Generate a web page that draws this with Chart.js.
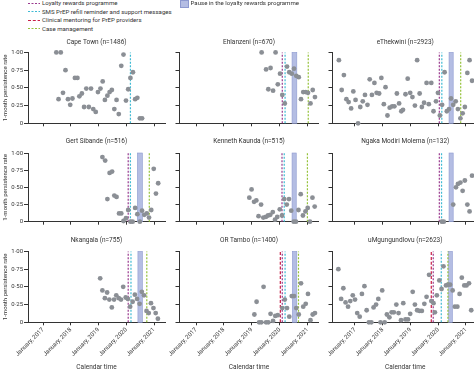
<!DOCTYPE html>
<html><head><meta charset="utf-8">
<script src="https://cdn.jsdelivr.net/npm/chart.js@4"></script>
<style>
html,body{margin:0;padding:0;width:474px;height:370px;overflow:hidden;background:#fff;}
body{position:relative;}
canvas{position:absolute;}
.lg{position:absolute;font-family:Roboto,'Liberation Sans',sans-serif;font-size:6.1px;color:#333;white-space:nowrap;line-height:8px;height:8px;}
svg{position:absolute;}
</style></head><body>
<script>
// ---------------- data ----------------
const districts = ['Cape Town','Ehlanzeni','eThekwini','Gert Sibande','Kenneth Kaunda','Ngaka Modiri Molema','Nkangala','OR Tambo','uMgungundlovu'];
const sampleSizes = [1486,670,2923,516,515,132,755,1400,2623];
const yTickValues = [0,0.25,0.5,0.75,1];
const yTickLabels = ['0','0·25','0·50','0·75','1·00'];
const xTickYears = [2017,2018,2019,2020,2021];
const xTickLabels = ['January, 2017','January, 2018','January, 2019','January, 2020','January, 2021'];
const yAxisTitle = '1-month persistence rate';
const xAxisTitle = 'Calendar time';

const capeTownTime = [2017.48,2017.56,2017.64,2017.72,2017.81,2017.90,2017.98,2018.06,2018.15,2018.24,2018.31,2018.40,2018.48,2018.56,2018.65,2018.73,2018.81,2018.90,2018.98,2019.07,2019.15,2019.23,2019.32,2019.40,2019.48,2019.57,2019.65,2019.73,2019.82,2019.90,2019.99,2020.07,2020.15,2020.24,2020.32,2020.40,2020.49,2020.57];
const capeTownRate = [1.00,0.34,1.00,0.43,0.75,0.34,0.26,0.35,0.64,0.64,0.38,0.42,0.23,0.49,0.23,0.49,0.20,0.16,0.44,0.49,0.59,0.33,0.39,0.44,0.47,0.20,0.33,0.13,0.81,0.97,0.32,0.48,0.64,0.72,0.34,0.36,0.07,0.07];

const ehlanzeniTime = [2019.35,2019.51,2019.59,2019.67,2019.76,2019.85,2019.93,2020.01,2020.09,2020.18,2020.26,2020.34,2020.43,2020.51,2020.59,2020.68,2020.76,2020.84,2020.93,2021.01,2021.10,2021.18,2021.26];
const ehlanzeniRate = [1.00,0.76,0.48,0.78,0.46,1.00,0.55,0.70,0.40,0.28,0.80,0.72,0.70,0.77,0.67,0.65,0.34,0.44,0.44,0.43,0.28,0.47,0.37];

const eThekwiniTime = [2016.42,2016.52,2016.60,2016.69,2016.77,2016.86,2016.94,2017.02,2017.11,2017.19,2017.28,2017.36,2017.45,2017.53,2017.61,2017.70,2017.78,2017.87,2017.95,2018.04,2018.10,2018.17,2018.25,2018.34,2018.42,2018.51,2018.59,2018.67,2018.73,2018.82,2018.90,2018.99,2019.07,2019.16,2019.24,2019.33,2019.41,2019.49,2019.58,2019.66,2019.75,2019.83,2019.92,2019.99,2020.06,2020.14,2020.23,2020.31,2020.39,2020.46,2020.54,2020.63,2020.71,2020.80,2020.88,2020.96,2021.05,2021.13,2021.22];
const eThekwiniRate = [0.89,0.47,0.68,0.34,0.30,0.21,0.45,0.33,0.00,0.23,0.31,0.40,0.26,0.62,0.40,0.57,0.43,0.42,0.64,0.27,0.51,0.11,0.22,0.24,0.24,0.42,0.28,0.17,0.19,0.41,0.63,0.43,0.37,0.25,0.89,0.42,0.23,0.29,0.57,0.27,0.57,0.17,0.31,0.43,0.11,0.26,0.72,0.17,0.20,0.35,0.26,0.31,0.20,0.07,0.14,0.23,0.71,0.89,0.60];

const gertSibandeTime = [2019.14,2019.24,2019.32,2019.40,2019.49,2019.57,2019.65,2019.74,2019.82,2019.90,2019.99,2020.07,2020.15,2020.23,2020.32,2020.40,2020.49,2020.57,2020.65,2020.74,2020.82,2020.90,2020.99,2021.07,2021.15];
const gertSibandeRate = [0.94,0.89,0.33,0.71,0.73,0.38,0.36,0.12,0.12,0.01,0.05,0.17,0.00,0.00,0.20,0.11,0.00,0.16,0.10,0.12,0.06,0.17,0.77,0.41,0.56];

const kennethKaundaTime = [2018.91,2018.99,2019.08,2019.16,2019.24,2019.33,2019.41,2019.50,2019.58,2019.66,2019.75,2019.83,2019.91,2020.00,2020.08,2020.16,2020.25,2020.33,2020.41,2020.50,2020.58,2020.67,2020.75,2020.83,2020.92,2021.00,2021.08,2021.17,2021.25];
const kennethKaundaRate = [0.35,0.47,0.29,0.31,0.08,0.25,0.06,0.07,0.09,0.10,0.14,0.03,0.07,0.18,0.09,0.33,0.25,0.33,0.16,0.00,0.00,0.17,0.40,0.09,0.15,0.20,0.00,0.35,0.22];

const ngakaModiriMolemaTime = [2020.13,2020.20,2020.54,2020.64,2020.71,2020.80,2020.88,2020.96,2021.05,2021.13,2021.22];
const ngakaModiriMolemaRate = [0.00,0.00,0.25,0.50,0.55,0.57,0.45,0.60,0.25,0.15,0.67];

const nkangalaTime = [2019.06,2019.14,2019.23,2019.31,2019.39,2019.48,2019.56,2019.64,2019.73,2019.81,2019.89,2019.98,2020.06,2020.14,2020.23,2020.31,2020.39,2020.48,2020.56,2020.64,2020.73,2020.81,2020.89,2020.98,2021.06,2021.14];
const nkangalaRate = [0.62,0.45,0.34,0.42,0.32,0.21,0.32,0.38,0.34,0.32,0.50,0.35,0.33,0.22,0.29,0.39,0.33,0.26,0.43,0.38,0.16,0.13,0.27,0.20,0.13,0.05];

const orTamboTime = [2019.09,2019.17,2019.26,2019.34,2019.42,2019.51,2019.59,2019.67,2019.76,2019.84,2019.93,2020.09,2020.18,2020.26,2020.34,2020.43,2020.51,2020.59,2020.68,2020.76,2020.84,2020.93,2021.01,2021.10,2021.18,2021.26];
const orTamboRate = [0.11,0.29,0.00,0.00,0.50,0.00,0.00,0.12,0.02,0.09,0.10,0.20,0.32,0.20,0.08,0.37,0.37,0.20,0.11,0.55,0.22,0.26,0.40,0.03,0.11,0.13];

const uMgungundlovuTime = [2016.40,2016.50,2016.58,2016.66,2016.75,2016.83,2016.92,2017.00,2017.08,2017.17,2017.25,2017.34,2017.42,2017.50,2017.59,2017.67,2017.76,2017.84,2017.92,2017.98,2018.07,2018.15,2018.24,2018.32,2018.40,2018.49,2018.57,2018.66,2018.74,2018.82,2018.91,2018.99,2019.08,2019.16,2019.24,2019.33,2019.41,2019.50,2019.58,2019.67,2019.75,2019.83,2019.88,2019.95,2020.04,2020.12,2020.19,2020.28,2020.35,2020.43,2020.52,2020.60,2020.69,2020.77,2020.85,2020.94,2021.02,2021.11,2021.19];
const uMgungundlovuRate = [0.75,0.33,0.48,0.28,0.22,0.30,0.38,0.32,0.13,0.08,0.40,0.51,0.17,0.00,0.00,0.21,0.25,0.33,0.00,0.45,0.00,0.11,0.07,0.14,0.14,0.25,0.13,0.03,0.27,0.04,0.04,0.12,0.43,0.25,0.17,0.16,0.16,0.26,0.36,0.67,0.30,0.27,0.14,0.38,0.59,0.47,0.79,0.52,0.53,0.53,0.45,0.22,0.22,0.40,0.63,0.52,0.52,0.55,0.17];

// intervention start dates (decimal year), per district, null = not shown
const loyaltyStart   = [null,2020.09,2020.04,2020.07,2020.08,2020.04,2020.07,2020.09,2019.82];
const smsStart       = [2020.15,2020.19,2020.13,2020.15,2020.16,2020.12,2020.17,2020.19,2020.11];
const mentoringStart = [null,null,null,null,null,null,null,2020.02,2019.75];
const caseMgmtStart  = [null,2021.02,2020.81,2020.83,2020.99,null,2020.74,2020.67,2020.35];
const pauseStart     = [null,2020.44,2020.39,2020.40,2020.44,2020.39,2020.42,2020.45,2020.37];
const pauseEnd       = [null,2020.61,2020.54,2020.58,2020.59,2020.54,2020.58,2020.61,2020.51];

const interventionNames = ['Loyalty rewards programme','SMS PrEP refill reminder and support messages','Clinical mentoring for PrEP providers','Case management'];
const pauseName = 'Pause in the loyalty rewards programme';

// ---------------- styling / layout ----------------
const seriesTimes = [capeTownTime,ehlanzeniTime,eThekwiniTime,gertSibandeTime,kennethKaundaTime,ngakaModiriMolemaTime,nkangalaTime,orTamboTime,uMgungundlovuTime];
const seriesRates = [capeTownRate,ehlanzeniRate,eThekwiniRate,gertSibandeRate,kennethKaundaRate,ngakaModiriMolemaRate,nkangalaRate,orTamboRate,uMgungundlovuRate];
const lineStyles = [
  {starts: loyaltyStart,   color:'#9a3a8e', dash:[2,1.5]},
  {starts: smsStart,       color:'#3fbad4', dash:[2,1.5]},
  {starts: mentoringStart, color:'#c81f45', dash:[3,1.8]},
  {starts: caseMgmtStart,  color:'#95c23a', dash:[2,1.5]}
];
const PAUSE_FILL = '#b4bde3', PAUSE_STROKE = '#8e9ad0';
const POINT_COLOR = '#8b8f95';
const AXIS_COLOR = '#333333';
const FONT = "Roboto,'Liberation Sans',sans-serif";

const COL_LEFT  = [28, 179.5, 332.5];
const COL_RIGHT = [165, 318.5, 478];
const COL_XMIN  = [2016.459, 2016.409, 2016.189];
const COL_XMAX  = [2021.396, 2021.387, 2021.434];
const ROW_TOP    = [52.7, 153.3, 251.7];
const ROW_BOTTOM = [123.3, 221.7, 322.3];
const ROW_TITLE_GAP = [9.6, 11.4, 11.0];

Chart.defaults.font.family = FONT;
Chart.defaults.color = AXIS_COLOR;

const pausePlugin = {
  id: 'pauseBand',
  beforeDatasetsDraw(chart, args, opts) {
    if (opts.start == null) return;
    const xs = chart.scales.x, ys = chart.scales.y, ctx = chart.ctx;
    const x0 = xs.getPixelForValue(opts.start), x1 = xs.getPixelForValue(opts.end);
    const y0 = ys.getPixelForValue(1), y1 = ys.getPixelForValue(0);
    ctx.save();
    ctx.fillStyle = PAUSE_FILL;
    ctx.fillRect(x0, y0, x1 - x0, y1 - y0);
    ctx.strokeStyle = PAUSE_STROKE;
    ctx.lineWidth = 0.6;
    ctx.strokeRect(x0, y0, x1 - x0, y1 - y0);
    ctx.restore();
  }
};

function makePanel(i) {
  const col = i % 3, row = Math.floor(i / 3);
  const pl = COL_LEFT[col], pr = COL_RIGHT[col], pt = ROW_TOP[row], pb = ROW_BOTTOM[row];
  const cl = Math.floor(pl - (col === 0 ? 28 : 24));
  const yW = pl - cl;
  const cw = Math.ceil(pr + 4) - cl;
  const padR = cl + cw - pr;
  const gap = ROW_TITLE_GAP[row];
  const ct = Math.floor(pt - gap - 4.2 - 1);
  const padT = (pt - gap - 4.2) - ct;
  const bottomEdge = row === 2 ? 371 : pb + 6;
  const ch = Math.ceil(bottomEdge) - ct;
  const xH = ct + ch - pb;

  const cv = document.createElement('canvas');
  cv.width = cw; cv.height = ch;
  cv.style.left = cl + 'px'; cv.style.top = ct + 'px';
  cv.style.width = cw + 'px'; cv.style.height = ch + 'px';
  document.body.appendChild(cv);

  const datasets = [{
    data: seriesTimes[i].map((t, k) => ({x: t, y: seriesRates[i][k]})),
    pointRadius: 2.4, pointBackgroundColor: POINT_COLOR, pointBorderWidth: 0,
    backgroundColor: POINT_COLOR, borderWidth: 0, showLine: false, clip: false
  }];
  lineStyles.forEach(ls => {
    const t = ls.starts[i];
    if (t == null) return;
    datasets.push({
      data: [{x: t, y: 0}, {x: t, y: 1}],
      showLine: true, borderColor: ls.color, borderWidth: 1.2, borderDash: ls.dash,
      pointRadius: 0, clip: false
    });
  });

  new Chart(cv, {
    type: 'scatter',
    data: {datasets},
    plugins: [pausePlugin],
    options: {
      responsive: false, animation: false, devicePixelRatio: 1,
      events: [],
      layout: {padding: {top: padT, left: 0, right: padR, bottom: 0}},
      plugins: {
        legend: {display: false}, tooltip: {enabled: false},
        pauseBand: {start: pauseStart[i], end: pauseEnd[i]},
        title: {
          display: true, fullSize: false,
          text: districts[i] + ' (n=' + sampleSizes[i] + ')',
          font: {size: 6.5, weight: 'normal', lineHeight: 1.2}, color: AXIS_COLOR,
          padding: {top: 0, bottom: gap - 3.9}
        }
      },
      scales: {
        x: {
          type: 'linear', min: COL_XMIN[col], max: COL_XMAX[col],
          afterBuildTicks: s => { s.ticks = xTickYears.map(v => ({value: v})); },
          afterFit: s => { s.height = xH; s.paddingLeft = 0; s.paddingRight = 0; },
          ticks: {
            display: row === 2, autoSkip: false,
            minRotation: 45, maxRotation: 45,
            padding: 1, font: {size: 6}, color: AXIS_COLOR,
            callback: v => xTickLabels[xTickYears.indexOf(v)]
          },
          grid: {drawOnChartArea: false, drawTicks: true, tickLength: 3, color: AXIS_COLOR, lineWidth: 1},
          border: {display: true, color: AXIS_COLOR, width: 1},
          title: {display: row === 2, text: xAxisTitle, padding: 0, font: {size: 6.5}, color: AXIS_COLOR}
        },
        y: {
          type: 'linear', min: 0, max: 1,
          afterBuildTicks: s => { s.ticks = yTickValues.map(v => ({value: v})); },
          afterFit: s => { s.width = yW; s.paddingTop = 0; s.paddingBottom = 0; },
          ticks: {
            display: col === 0, autoSkip: false, padding: 1, font: {size: 6}, color: AXIS_COLOR,
            callback: v => yTickLabels[yTickValues.indexOf(v)]
          },
          grid: {drawOnChartArea: false, drawTicks: true, tickLength: 4, color: AXIS_COLOR, lineWidth: 1},
          border: {display: true, color: AXIS_COLOR, width: 1},
          title: {display: col === 0, text: yAxisTitle, padding: {top: 1.5, bottom: 0}, font: {size: 6}, color: AXIS_COLOR}
        }
      }
    }
  });
}

for (let i = 0; i < 9; i++) makePanel(i);

// ---------------- legend ----------------
const legendRowsY = [3.3, 11.7, 20.2, 28.8];
lineStyles.forEach((ls, k) => {
  const y = legendRowsY[k];
  const svg = document.createElementNS('http://www.w3.org/2000/svg', 'svg');
  svg.setAttribute('width', '13'); svg.setAttribute('height', '3');
  svg.style.left = '28px'; svg.style.top = (y - 1.5) + 'px';
  const ln = document.createElementNS('http://www.w3.org/2000/svg', 'line');
  ln.setAttribute('x1', '0'); ln.setAttribute('x2', '12');
  ln.setAttribute('y1', '1.5'); ln.setAttribute('y2', '1.5');
  ln.setAttribute('stroke', ls.color); ln.setAttribute('stroke-width', '1.2');
  ln.setAttribute('stroke-dasharray', ls.dash.join(' '));
  svg.appendChild(ln);
  document.body.appendChild(svg);
  const d = document.createElement('div');
  d.className = 'lg'; d.textContent = interventionNames[k];
  d.style.left = '42px'; d.style.top = (y - 4) + 'px';
  document.body.appendChild(d);
});
(function () {
  const b = document.createElement('div');
  b.style.cssText = 'position:absolute;left:180px;top:-0.5px;width:7px;height:6px;background:' + PAUSE_FILL + ';border:0.8px solid ' + PAUSE_STROKE + ';';
  document.body.appendChild(b);
  const d = document.createElement('div');
  d.className = 'lg'; d.textContent = pauseName;
  d.style.left = '190.5px'; d.style.top = (3.3 - 4) + 'px';
  document.body.appendChild(d);
})();
</script>
</body></html>
